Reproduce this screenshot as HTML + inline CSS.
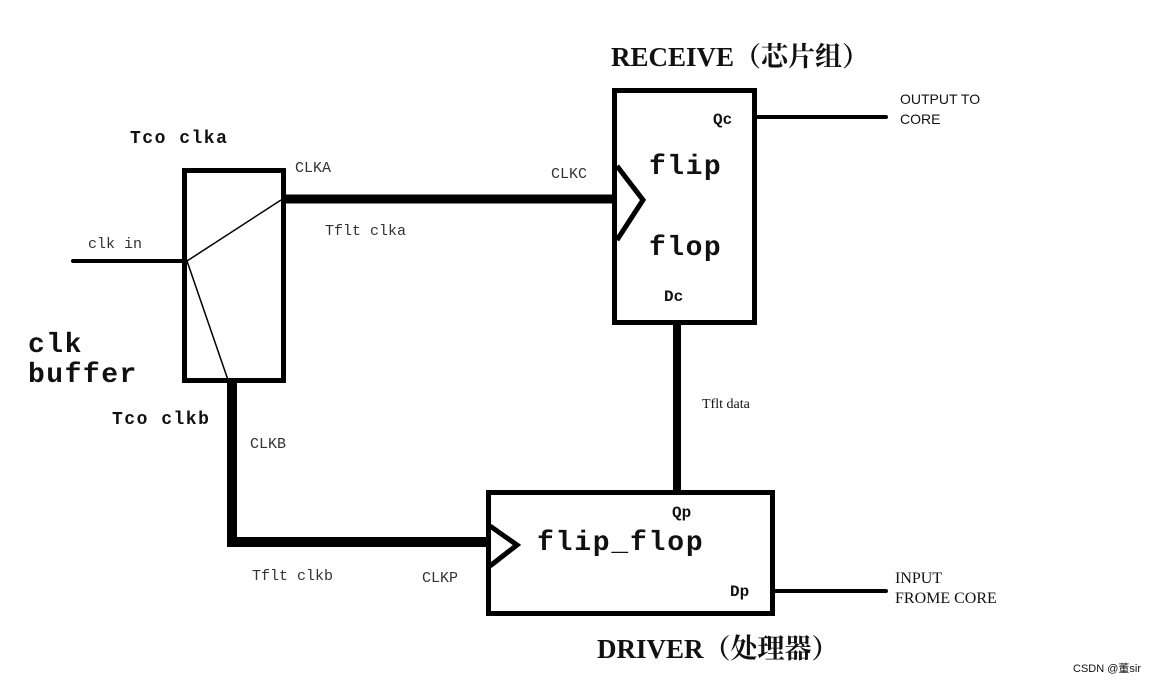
<!DOCTYPE html>
<html><head><meta charset="utf-8"><style>
body{margin:0;background:#fff;width:1158px;height:683px;overflow:hidden}
text{font-family:"Liberation Serif","Noto Serif CJK SC",serif;fill:#111}
.b{font-weight:bold}
.mb{font-family:"Liberation Mono",monospace;font-weight:bold;fill:#111}
.m{font-family:"Liberation Mono",monospace;font-size:15px;fill:#333}
</style></head><body>
<svg width="1158" height="683" viewBox="0 0 1158 683">
<g fill="none" stroke="#000" stroke-linejoin="miter">
<rect x="184.5" y="170.5" width="99" height="210" stroke-width="5"/>
<rect x="614.5" y="90.5" width="140" height="232" stroke-width="5"/>
<rect x="488.5" y="492.5" width="284" height="121" stroke-width="5"/>
<line x1="286" y1="199" x2="614" y2="199" stroke-width="9"/>
<line x1="73" y1="261" x2="186" y2="261" stroke-width="4" stroke-linecap="round"/>
<line x1="187" y1="261" x2="281" y2="200" stroke-width="1.5"/>
<line x1="187" y1="261" x2="228" y2="380" stroke-width="1.5"/>
<polyline points="232,383 232,542 487,542" stroke-width="10"/>
<line x1="757" y1="117" x2="886" y2="117" stroke-width="4" stroke-linecap="round"/>
<polyline points="617,166 643,200 617,240" stroke-width="5"/>
<line x1="677" y1="325" x2="677" y2="491" stroke-width="8"/>
<polyline points="490,526 517,545 490,566" stroke-width="5"/>
<line x1="775" y1="591" x2="886" y2="591" stroke-width="4" stroke-linecap="round"/>
</g>
<text x="130" y="143" class="mb" font-size="18" letter-spacing="1.5">Tco clka</text>
<text x="295" y="172" class="m">CLKA</text>
<text x="325" y="235" class="m">Tflt clka</text>
<text x="88" y="248" class="m">clk in</text>
<text x="28" y="352" class="mb" font-size="28" letter-spacing="1.5">clk</text>
<text x="28" y="382" class="mb" font-size="28" letter-spacing="1.5">buffer</text>
<text x="112" y="424" class="mb" font-size="18" letter-spacing="1.5">Tco clkb</text>
<text x="250" y="448" class="m">CLKB</text>
<text x="252" y="580" class="m">Tflt clkb</text>
<text x="422" y="582" class="m">CLKP</text>
<text x="551" y="178" class="m">CLKC</text>
<text x="611" y="66" class="b" font-size="27">RECEIVE（芯片组）</text>
<text x="713" y="124" class="mb" font-size="16">Qc</text>
<text x="649" y="174" class="mb" font-size="28" letter-spacing="1.5">flip</text>
<text x="649" y="255" class="mb" font-size="28" letter-spacing="1.5">flop</text>
<text x="664" y="301" class="mb" font-size="16">Dc</text>
<text x="900" y="104" font-size="14" fill="#444" style="font-family:'Liberation Sans',sans-serif">OUTPUT TO</text>
<text x="900" y="124" font-size="14" fill="#444" style="font-family:'Liberation Sans',sans-serif">CORE</text>
<text x="702" y="408" font-size="14" fill="#333">Tflt data</text>
<text x="672" y="517" class="mb" font-size="16">Qp</text>
<text x="537" y="550" class="mb" font-size="28" letter-spacing="1.8">flip_flop</text>
<text x="730" y="596" class="mb" font-size="16">Dp</text>
<text x="895" y="583" font-size="16" fill="#333">INPUT</text>
<text x="895" y="603" font-size="16" fill="#333">FROME CORE</text>
<text x="597" y="658" class="b" font-size="27">DRIVER（处理器）</text>
<text x="1073" y="672" font-size="11" fill="#999" style="font-family:'Liberation Sans','Noto Sans CJK SC',sans-serif">CSDN @董sir</text>
</svg>
</body></html>
